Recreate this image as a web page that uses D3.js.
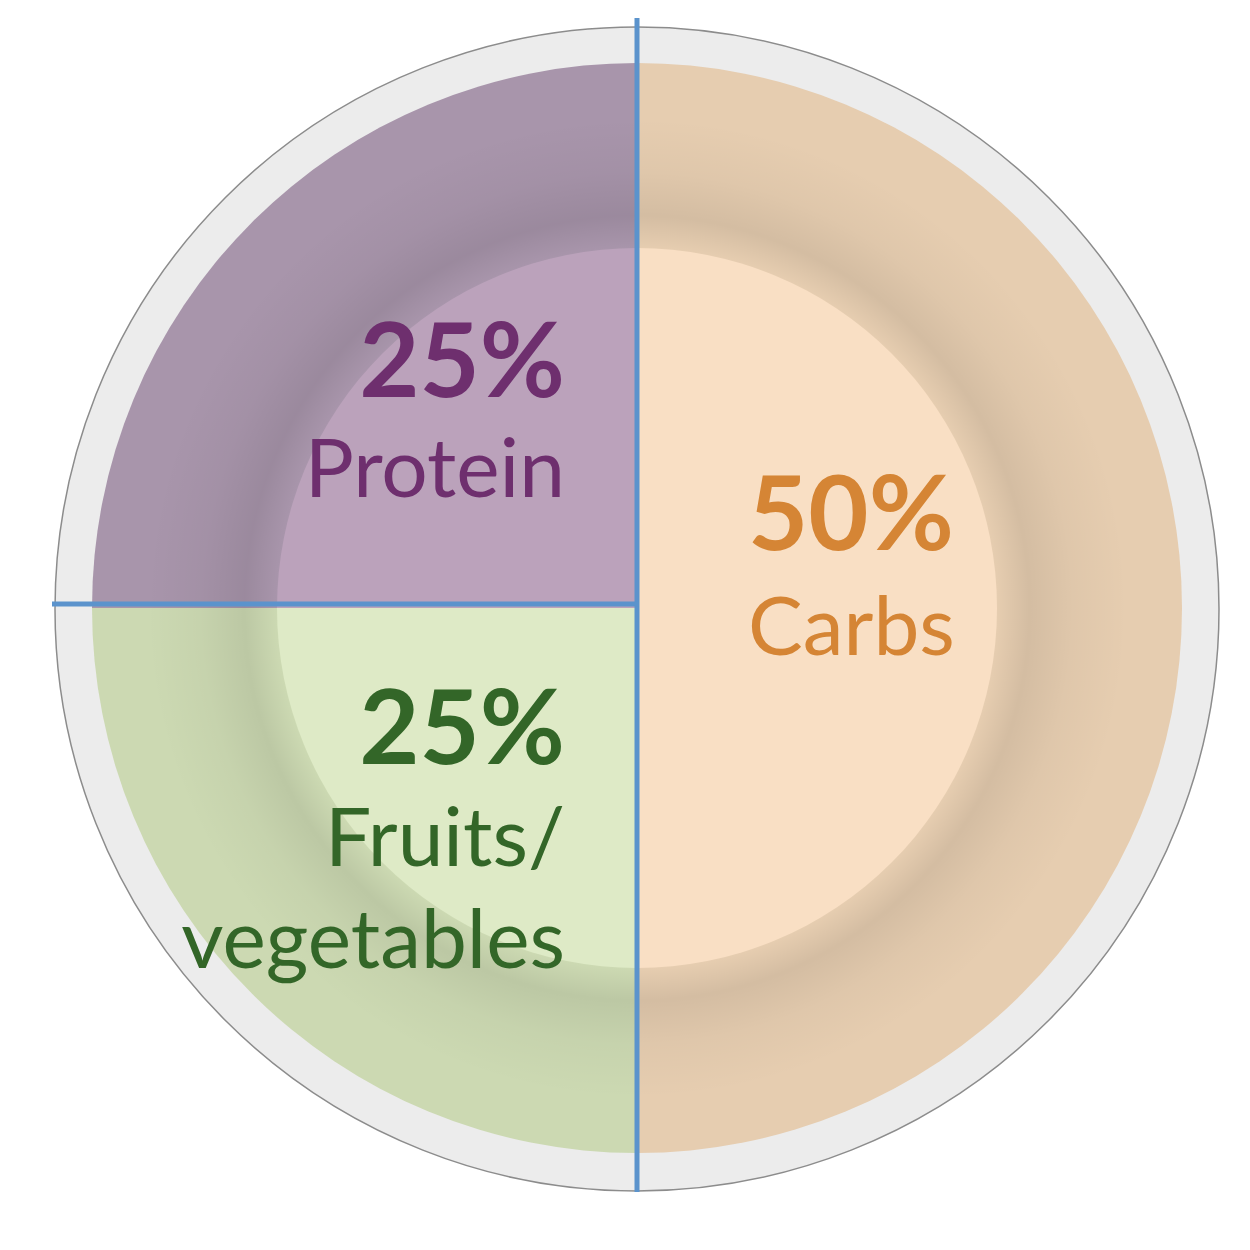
<!DOCTYPE html>
<html><head><meta charset="utf-8">
<script src="https://cdn.jsdelivr.net/npm/d3@7"></script>
<style>body{margin:0;background:#fff}</style></head>
<body><svg id="c" width="1250" height="1250"></svg>
<script>
const categories=["Carbs","Fruits/vegetables","Protein"];
const values=[50,25,25];
const outerColors=["#e6cdb0","#ccd9b2","#a895ab"];
const innerColors=["#f9dfc4","#deeac6","#bba2bb"];
const textColors=["#d58535","#336628","#6e2f6e"];

const svg=d3.select("#c");
const cx=637,cy=608;
const defs=svg.append("defs");
const rg=defs.append("radialGradient").attr("id","sh").attr("gradientUnits","userSpaceOnUse")
 .attr("cx",cx).attr("cy",cy).attr("r",545);
[[0,0],[0.66,0],[0.72,0.08],[0.8,0.03],[0.9,0],[1,0]].forEach(([o,a])=>rg.append("stop").attr("offset",o).attr("stop-color","#000").attr("stop-opacity",a));

svg.append("circle").attr("cx",cx).attr("cy",cy+1).attr("r",582).attr("fill","#ececec").attr("stroke","#8c8c8c").attr("stroke-width",1.5);
const g=svg.append("g").attr("transform",`translate(${cx},${cy})`);
const pie=d3.pie().sort(null).value(d=>d)(values);
g.selectAll(".o").data(pie).join("path").attr("d",d3.arc().innerRadius(0).outerRadius(545)).attr("fill",(d,i)=>outerColors[i]);
g.selectAll(".i").data(pie).join("path").attr("d",d3.arc().innerRadius(0).outerRadius(360)).attr("fill",(d,i)=>innerColors[i]);
g.append("circle").attr("r",545).attr("fill","url(#sh)").attr("transform",`translate(${-cx},${-cy})`).attr("cx",cx).attr("cy",cy);

svg.append("line").attr("x1",637).attr("x2",637).attr("y1",18).attr("y2",1192).attr("stroke","#5b93cc").attr("stroke-width",5);
svg.append("line").attr("x1",52).attr("x2",639).attr("y1",604).attr("y2",604).attr("stroke","#5b93cc").attr("stroke-width",5);

const f="Lato, 'Open Sans', sans-serif";
function lbl(x,y,anchor,lines,col){
  const t=svg.append("text").attr("text-anchor",anchor).attr("fill",col).attr("font-family",f);
  lines.forEach(([s,sz,w,dy])=>t.append("tspan").attr("x",x).attr("y",y+dy).attr("font-size",sz).attr("font-weight",w).text(s));
}
lbl(565,397,"end",[["25%",104,700,0],["Protein",82,400,100]],textColors[2]);
lbl(748,550,"start",[["50%",104,700,0],["Carbs",82,400,105]],textColors[0]);
lbl(565,764,"end",[["25%",104,700,0],["Fruits/",82,400,102],["vegetables",82,400,204]],textColors[1]);
</script></body></html>
